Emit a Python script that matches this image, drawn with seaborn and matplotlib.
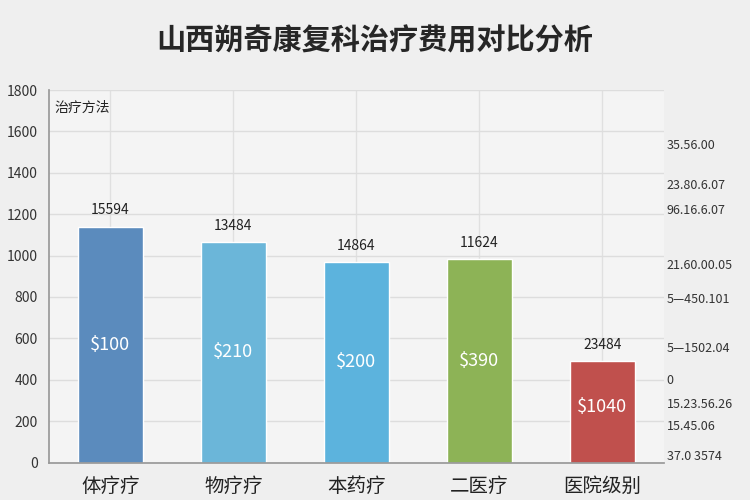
import matplotlib
matplotlib.use("Agg")
import matplotlib.pyplot as plt
import seaborn as sns
import pandas as pd

categories = ["体疗疗", "物疗疗", "本药疗", "二医疗", "医院级别"]
values = [1140, 1066, 968, 983, 491]
top_labels = ["15594", "13484", "14864", "11624", "23484"]
inner_labels = ["$100", "$210", "$200", "$390", "$1040"]
colors = ["#5b8bbd", "#6bb6d9", "#5cb3dd", "#8db356", "#c0504d"]
right_notes = ["35.56.00", "23.80.6.07", "96.16.6.07", "21.60.00.05", "5—450.101",
               "5—1502.04", "0", "15.23.56.26", "15.45.06", "37.0 3574"]
right_y = [1530, 1340, 1220, 950, 790, 550, 395, 280, 175, 30]
yticks = list(range(0, 1801, 200))

sns.set_theme(style="whitegrid")
plt.rcParams['font.family'] = ['Noto Sans CJK SC', 'DejaVu Sans']

fig = plt.figure(figsize=(7.5, 5), dpi=100, facecolor="#efefef")
ax = fig.add_axes([0.065, 0.075, 0.82, 0.745])
ax.set_facecolor("#f4f4f4")
df = pd.DataFrame({"cat": categories, "val": values})
sns.barplot(data=df, x="cat", y="val", hue="cat", palette=colors, legend=False,
            width=0.53, ax=ax, saturation=1)
ax.set_ylim(0, 1800)
ax.set_yticks(yticks)
ax.set_yticklabels([str(t) for t in yticks], fontsize=10, color="#333")
ax.set_xlabel("")
ax.set_ylabel("")
ax.tick_params(axis="x", labelsize=14, colors="#222")
ax.tick_params(axis="y", pad=2)
ax.grid(axis="y", color="#dddddd")
ax.grid(axis="x", color="#e0e0e0")
for s in ["top", "right"]:
    ax.spines[s].set_visible(False)
for s in ["left", "bottom"]:
    ax.spines[s].set_color("#999")
for i, v in enumerate(values):
    ax.text(i, v + 45, top_labels[i], ha="center", va="bottom", fontsize=10, color="#222")
    ax.text(i, 270 if i == 4 else v * 0.5, inner_labels[i],
            ha="center", va="center", fontsize=13, color="white")
ax.text(0.01, 0.94, "治疗方法", transform=ax.transAxes, fontsize=10, color="#222")
for t, y in zip(right_notes, right_y):
    ax.text(1.005, y, t, transform=ax.get_yaxis_transform(), fontsize=9, color="#333", va="center")
fig.suptitle("山西朔奇康复科治疗费用对比分析", fontsize=21, fontweight="bold", y=0.95)
fig.savefig("out.png", dpi=100, facecolor=fig.get_facecolor())
